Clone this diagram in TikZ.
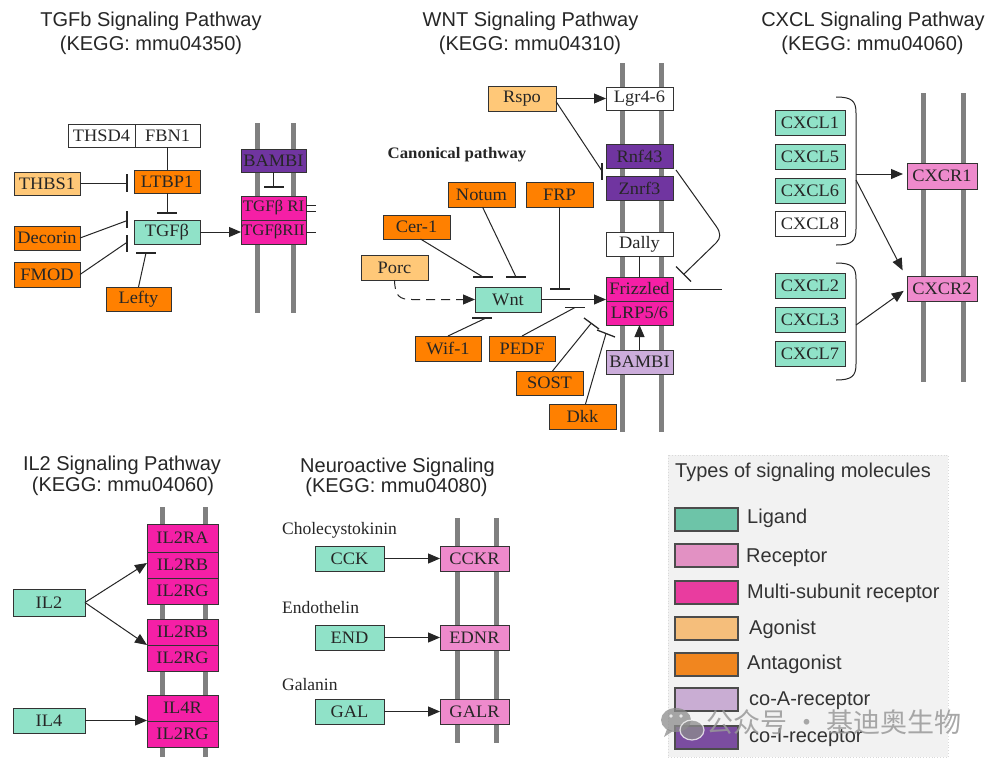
\documentclass[tikz,border=0pt]{standalone}
\usepackage{fontspec}
\usepackage{graphicx}
\setmainfont{Liberation Serif}
\newfontfamily\titlefont{Liberation Sans}
\newfontfamily\cjkfont{Noto Sans CJK SC}
\usetikzlibrary{arrows.meta}
\definecolor{lig}{HTML}{90E2C8}
\definecolor{anta}{HTML}{FF8000}
\definecolor{agon}{HTML}{FFC878}
\definecolor{multi}{HTML}{F51FA6}
\definecolor{rec}{HTML}{EE8ACC}
\definecolor{coi}{HTML}{7035A0}
\definecolor{coa}{HTML}{CCADDB}
\definecolor{memc}{HTML}{808080}
\definecolor{legbg}{HTML}{F2F2F2}
\definecolor{Lg}{HTML}{6DC4A8}
\definecolor{Lr}{HTML}{E291C3}
\definecolor{Lm}{HTML}{E93C9F}
\definecolor{La}{HTML}{F5BE7B}
\definecolor{Ln}{HTML}{F1861F}
\definecolor{Lca}{HTML}{C9ADD3}
\definecolor{Lci}{HTML}{7B4DA0}
\tikzset{
  box/.style={draw=black!80, line width=0.8pt, inner sep=0pt, outer sep=0pt,
    font=\fontsize{17.5}{19}\selectfont, text=black!85},
  mem/.style={draw=memc, line width=5pt},
  con/.style={draw=black!85, line width=1pt},
  arr/.style={con, -{Triangle[length=12pt,width=10pt]}},
  barl/.style={draw=black!85, line width=1.3pt},
  ttl/.style={font=\titlefont\fontsize{20}{23}\selectfont, anchor=base, text=black!85},
  lbl/.style={font=\fontsize{17.5}{19}\selectfont, anchor=base west, inner sep=0pt, text=black!85},
  legt/.style={font=\titlefont\fontsize{20}{23}\selectfont, anchor=base west, inner sep=0pt, text=black!80},
  swatch/.style={draw=black!70, line width=1.3pt, inner sep=0pt, outer sep=0pt},
  wm/.style={font=\cjkfont\fontsize{27}{30}\selectfont, text=black!40, anchor=west, inner sep=0pt, opacity=0.85},
}
\newcommand\bx[7]{\node[box, fill=#6, minimum width={(#4-#2)*1pt}, minimum height={(#5-#3)*1pt}] (#1) at ({(#2+#4)/2},{(#3+#5)/2}) {\scalebox{1.05}[1]{#7}};}
\newcommand\sw[5]{\node[swatch, fill=#5, minimum width={(#3-#1)*1pt}, minimum height={(#4-#2)*1pt}] at ({(#1+#3)/2},{(#2+#4)/2}) {};}
\begin{document}
\begin{tikzpicture}[x=1pt,y=-1pt]
\useasboundingbox (0,0) rectangle (993,766);
\fill[white] (0,0) rectangle (993,766);

% ================= TGFb =================
\node[ttl] (t1a) at (151,26) {TGFb Signaling Pathway};
\node[ttl] (t1b) at (151,50) {(KEGG: mmu04350)};
\draw[mem] (257.5,123) -- (257.5,313);
\draw[mem] (293,123) -- (293,313);
\bx{thsd}{68}{124}{135}{147}{white}{THSD4}
\bx{fbn}{135}{124}{200}{147}{white}{FBN1}
\bx{thbs}{14}{172}{80}{195}{agon}{THBS1}
\bx{ltbp}{134}{170}{200}{193}{anta}{LTBP1}
\bx{tgfb}{134}{220}{200}{244}{lig}{TGFβ}
\bx{decorin}{14}{226}{80}{250}{anta}{Decorin}
\bx{fmod}{14}{262}{80}{287}{anta}{FMOD}
\bx{lefty}{106}{287}{171}{311}{anta}{Lefty}
\bx{bambiT}{241}{149}{306}{172}{coi}{BAMBI}
\bx{tri}{241}{196}{306}{220}{multi}{\fontsize{16}{18}\selectfont TGFβ RI}
\bx{trii}{241}{220}{306}{244}{multi}{\fontsize{16}{18}\selectfont TGFβRII}
\coordinate (i1) at (127,183.5);
\draw[con] (thbs.east) -- (i1);
\draw[barl] (127,174) -- (127,192);
\draw[con] (fbn.south) -- (fbn.south |- ltbp.north);
\coordinate (i2) at (167,213);
\draw[con] (ltbp.south) -- (i2);
\draw[barl] (157,213) -- (177,213);
\coordinate (i3) at (126,221);
\draw[con] (decorin.east) -- (i3);
\draw[barl] (127,211) -- (127,228);
\coordinate (i4) at (126,243);
\draw[con] (fmod.east) -- (i4);
\draw[barl] (127,235) -- (127,252);
\coordinate (i5) at (146,253);
\draw[con] (lefty.north) -- (i5);
\draw[barl] (136,253) -- (156,253);
\draw[arr] (tgfb.east) -- (trii.west);
\coordinate (i6) at (273.5,187);
\draw[con] (bambiT.south) -- (i6);
\draw[barl] (264,187) -- (284,187);
\draw[con] (306,205.5) -- (316,205.5);
\draw[con] (306,211) -- (316,211);
\draw[con] (306,232) -- (316,232);

% ================= WNT =================
\node[ttl] (t2a) at (530.5,26) {WNT Signaling Pathway};
\node[ttl] (t2b) at (530,50) {(KEGG: mmu04310)};
\draw[mem] (622,63) -- (622,432);
\draw[mem] (661,63) -- (661,432);
\node[font=\bfseries\fontsize{16}{18}\selectfont, anchor=base, inner sep=0pt, text=black!85] (canon) at (457,158) {\scalebox{1.05}[1]{Canonical pathway}};
\bx{rspo}{488}{86}{556}{111}{agon}{Rspo}
\bx{lgr}{606}{87}{673}{110}{white}{Lgr4-6}
\bx{rnf}{606}{144}{673}{168}{coi}{Rnf43}
\bx{znrf}{606}{176}{673}{200}{coi}{Znrf3}
\bx{dally}{606}{232}{673}{256}{white}{Dally}
\bx{fzd}{606}{277}{673}{301}{multi}{Frizzled}
\bx{lrp}{606}{301}{673}{325}{multi}{LRP5/6}
\bx{bambiW}{606}{350}{673}{374}{coa}{BAMBI}
\bx{wnt}{475}{287}{541}{312}{lig}{Wnt}
\bx{porc}{361}{255}{428}{280}{agon}{Porc}
\bx{cer}{383}{215}{450}{239}{anta}{Cer-1}
\bx{notum}{448}{182}{515}{207}{anta}{Notum}
\bx{frp}{526}{182}{593}{207}{anta}{FRP}
\bx{wif}{415}{336}{481}{361}{anta}{Wif-1}
\bx{pedf}{489}{336}{555}{361}{anta}{PEDF}
\bx{sost}{516}{371}{583}{395}{anta}{SOST}
\bx{dkk}{549}{404}{616}{429}{anta}{Dkk}
\draw[arr] (rspo.east) -- (lgr.west);
\coordinate (w1) at (602,171);
\draw[con] ([yshift=-3pt]rspo.east) -- (w1);
\draw[barl] (602,163) -- (602,180);
\coordinate (w2) at (684,274);
\draw[con] ([xshift=3pt,yshift=-2pt]rnf.south east) -- (716,226) .. controls (721,233) and (721,238) .. (716,243) -- (w2);
\draw[barl] (676,266.5) -- (691,281.5);
\draw[con] (dally.south) -- (dally.south |- fzd.north);
\coordinate (w3) at (722,289);
\draw[con] (fzd.east) -- (w3);
\draw[arr] (bambiW.north) -- (lrp.south);
\draw[arr] (wnt.east) -- (wnt.east -| fzd.west);
\draw[con, dash pattern=on 9pt off 6pt, -{Triangle[length=12pt,width=10pt]}] (porc.south) .. controls (395,296) and (399,299.5) .. (412,299.5) -- (wnt.west);
\coordinate (w4) at (483,277);
\draw[con] ([xshift=4pt]cer.south) -- (w4);
\draw[barl] (473,277) -- (493,277);
\coordinate (w5) at (516,277);
\draw[con] ([xshift=1pt]notum.south) -- (w5);
\draw[barl] (506,277) -- (526,277);
\coordinate (w6) at (559.5,289);
\draw[con] (frp.south) -- (w6);
\draw[barl] (550,289) -- (570,289);
\coordinate (w7) at (486,318);
\draw[con] (wif.north) -- (w7);
\draw[barl] (472,318) -- (492,318);
\coordinate (w8) at (575,307.5);
\draw[con] (pedf.north) -- (w8);
\draw[barl] (565,307.5) -- (585,307.5);
\coordinate (w9) at (591,323.5);
\draw[con] ([xshift=3pt]sost.north) -- (w9);
\draw[barl] (584,318) -- (599,329);
\coordinate (w10) at (606,333.5);
\draw[con] ([xshift=3pt]dkk.north) -- (w10);
\draw[barl] (597,330) -- (615,337);

% ================= CXCL =================
\node[ttl] (t3a) at (873,26) {CXCL Signaling Pathway};
\node[ttl] (t3b) at (872.5,50) {(KEGG: mmu04060)};
\draw[mem] (923,93) -- (923,382);
\draw[mem] (963,93) -- (963,382);
\bx{c1}{775}{110}{845}{135}{lig}{CXCL1}
\bx{c5}{775}{144}{845}{169}{lig}{CXCL5}
\bx{c6}{775}{178}{845}{203}{lig}{CXCL6}
\bx{c8}{775}{211}{845}{236}{white}{CXCL8}
\bx{c2}{775}{273}{845}{298}{lig}{CXCL2}
\bx{c3}{775}{307}{845}{332}{lig}{CXCL3}
\bx{c7}{775}{341}{845}{366}{lig}{CXCL7}
\bx{cr1}{907}{163}{977}{189}{rec}{CXCR1}
\bx{cr2}{907}{276}{977}{301}{rec}{CXCR2}
\draw[con] (836,97) .. controls (852,97) and (856,101) .. (856,113) -- (856,229) .. controls (856,241) and (852,245) .. (836,245);
\draw[con] (836,263) .. controls (852,263) and (856,267) .. (856,279) -- (856,364) .. controls (856,376) and (852,380) .. (836,380);
\coordinate (br1) at (856,174);
\coordinate (br1b) at (856,180);
\coordinate (br2) at (856,325);
\draw[arr, shorten >=4pt] (br1) -- (br1 -| cr1.west);
\draw[arr, shorten >=3pt] (br1b) -- ([xshift=-3pt,yshift=3pt]cr2.north west);
\draw[arr, shorten >=4pt] (br2) -- (cr2.west);

% ================= IL2 =================
\node[ttl] (t4a) at (122,470) {IL2 Signaling Pathway};
\node[ttl] (t4b) at (123,491) {(KEGG: mmu04060)};
\draw[mem] (162,507) -- (162,757);
\draw[mem] (205,507) -- (205,757);
\bx{ra}{147}{524}{218}{552}{multi}{IL2RA}
\bx{rb1}{147}{552}{218}{578}{multi}{IL2RB}
\bx{rg1}{147}{578}{218}{604}{multi}{IL2RG}
\bx{rb2}{147}{619}{218}{645}{multi}{IL2RB}
\bx{rg2}{147}{645}{218}{671}{multi}{IL2RG}
\bx{il4r}{147}{695}{218}{721}{multi}{IL4R}
\bx{rg3}{147}{721}{218}{747}{multi}{IL2RG}
\bx{il2}{13}{589}{85}{616}{lig}{IL2}
\bx{il4}{13}{708}{85}{733}{lig}{IL4}
\draw[arr] (il2.east) -- ([yshift=2pt]rb1.west);
\draw[arr] (il2.east) -- (rb2.south west);
\draw[arr] (il4.east) -- (il4.east -| il4r.west);

% ================= Neuroactive =================
\node[ttl] (t5a) at (397.5,472) {Neuroactive Signaling};
\node[ttl] (t5b) at (396.5,492) {(KEGG: mmu04080)};
\draw[mem] (457,518) -- (457,743);
\draw[mem] (496,518) -- (496,743);
\node[lbl] (l1) at (282,534) {Cholecystokinin};
\node[lbl] (l2) at (282,613) {Endothelin};
\node[lbl] (l3) at (282,690) {Galanin};
\bx{cck}{315}{546}{384}{571}{lig}{CCK}
\bx{cckr}{440}{546}{509}{571}{rec}{CCKR}
\bx{endn}{315}{625}{384}{650}{lig}{END}
\bx{ednr}{440}{625}{509}{650}{rec}{EDNR}
\bx{gal}{315}{699}{384}{724}{lig}{GAL}
\bx{galr}{440}{699}{509}{724}{rec}{GALR}
\draw[arr] (cck.east) -- (cckr.west);
\draw[arr] (endn.east) -- (ednr.west);
\draw[arr] (gal.east) -- (galr.west);

% ================= Legend =================
\draw[fill=legbg, draw=black!15, dotted, line width=0.8pt] (668,455) rectangle (948,757);
\node[legt] (lt) at (675,477) {Types of signaling molecules};
\sw{675}{508}{738}{531}{Lg}
\sw{675}{544}{738}{567}{Lr}
\sw{675}{581}{738}{604}{Lm}
\sw{675}{617}{738}{640}{La}
\sw{675}{653}{738}{676}{Ln}
\sw{675}{688}{738}{711}{Lca}
\sw{675}{726}{738}{749}{Lci}
\node[legt] (g1) at (747,523) {Ligand};
\node[legt] (g2) at (746,562) {Receptor};
\node[legt] (g3) at (747,598) {Multi-subunit receptor};
\node[legt] (g4) at (749,634) {Agonist};
\node[legt] (g5) at (747,669) {Antagonist};
\node[legt] (g6) at (749,705) {co-A-receptor};
\node[legt] (g7) at (749,742) {co-I-receptor};

% watermark
\begin{scope}[opacity=0.75]
\fill[black!45] (676,720) ellipse [x radius=15pt, y radius=12pt];
\fill[black!45] (667,729) -- (664,737) -- (673,731) -- cycle;
\fill[black!45, draw=white, line width=1.2pt] (692,730) ellipse [x radius=12pt, y radius=10pt];
\fill[white] (671,716) circle [radius=1.8pt];
\fill[white] (681,716) circle [radius=1.8pt];
\end{scope}
\node[wm] (wm1) at (706,722) {公众号\hspace{6pt}·\hspace{6pt}基迪奥生物};
\end{tikzpicture}
\end{document}
